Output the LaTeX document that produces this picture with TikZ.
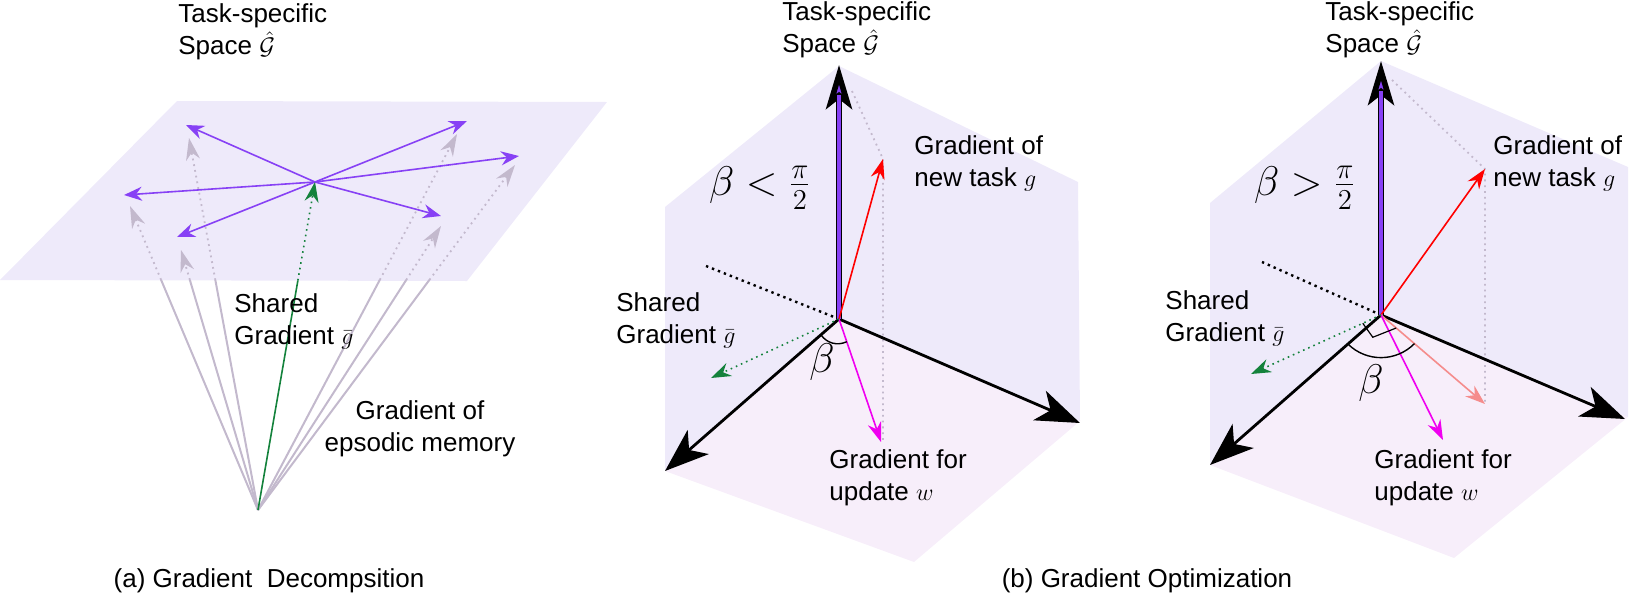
\documentclass[tikz,border=0pt]{standalone}
\usepackage{fontspec}
\setmainfont{Liberation Sans}
\usetikzlibrary{arrows.meta,calc}
\definecolor{pur}{RGB}{135,65,245}
\definecolor{lav}{RGB}{238,234,250}
\definecolor{pnk}{RGB}{247,238,250}
\definecolor{grn}{RGB}{20,130,60}
\definecolor{mag}{RGB}{240,0,240}
\definecolor{sal}{RGB}{245,140,140}
\definecolor{gry}{RGB}{195,185,205}
\tikzset{
 lbl/.style={font=\fontsize{13}{16}\selectfont, align=left, inner sep=0pt},
 captxt/.style={font=\fontsize{13}{15}\selectfont, inner sep=0pt},
 parr/.style={pur, line width=0.8pt, -{Stealth[length=9pt,width=7pt]}},
 gdot/.style={gry, line width=0.9pt, dotted},
 axis/.style={black, line width=1.4pt, -{Stealth[length=22pt,width=16pt,inset=6pt]}},
 upaxis/.style={line width=2.8pt, draw=black, -{Stealth[length=22pt,width=13pt,inset=5pt,fill=pur]}},
 vec/.style={line width=0.8pt, -{Stealth[length=10pt,width=7pt]}},
 big/.style={font=\fontsize{22}{24}\selectfont, inner sep=0pt},
}
\begin{document}
\begin{tikzpicture}[x=0.5pt,y=-0.5pt]
\useasboundingbox (0,0) rectangle (1629,595);
% ---------------- panel (a)
\fill[lav] (0,280) -- (177,101) -- (607,102) -- (467,281) -- cycle;
\coordinate (B) at (258,510);
\coordinate (C) at (315,182);
\foreach \n/\x/\y/\p in {1/189/138/0.618,2/457/134/0.612,3/515/165/0.667,4/130/206/0.757,5/181/250/0.885,6/441/226/0.81}{
  \coordinate (G\n) at (\x,\y);
  \path (B) -- (G\n) coordinate[pos=\p] (M\n);
  \draw[gry, line width=1pt] (B) -- (M\n);
  \draw[gdot, -{Stealth[length=11pt,width=7pt]}] (M\n) -- (G\n);
}
\foreach \n/\x/\y in {1/186/125,2/467/121,3/519/156,4/124/195,5/177/237,6/441/216}{
  \coordinate (P\n) at (\x,\y);
  \draw[parr] (C) -- (P\n);
}
\path (B) -- (C) coordinate[pos=0.70] (MG);
\draw[grn, line width=0.8pt] (B) -- (MG);
\draw[grn, line width=0.8pt, dotted, -{Stealth[length=10pt,width=7pt]}] (MG) -- (C);
\node[lbl, anchor=west] (ta) at (178,32) {Task-specific\\Space $\hat{\mathcal{G}}$};
\node[lbl, anchor=west] (sa) at (234,321) {Shared\\Gradient $\bar{g}$};
\node[lbl, align=center] (ea) at (420,429) {Gradient of\\epsodic memory};
\node[captxt] (capa) at (269,581) {(a) Gradient \ Decompsition};
% ---------------- panel (b)
\fill[pnk] (839,319) -- (665,471) -- (914,562) -- (1080,421) -- cycle;
\fill[lav] (839,319) -- (665,471) -- (665,207) -- (839,66) -- (1078,182) -- (1080,421) -- cycle;
\coordinate (Ob) at (839,319);
\coordinate (Tb) at (839,65);
\coordinate (Lb) at (665,471);
\coordinate (Rb) at (1080,423);
\draw[black, line width=1.2pt, dotted] (Ob) -- (706,266);
\draw[gdot] (852,91) -- (883,159) -- (883,442);
\draw[axis] (Ob) -- (Lb);
\draw[axis] (Ob) -- (Rb);
\draw[upaxis] (Ob) -- (Tb);
\draw[pur, line width=1.6pt] (Ob) -- ($(Tb)+(0,30)$);
\draw[vec, red] (Ob) -- (883,159) coordinate (Rdb);
\draw[vec, mag] (Ob) -- (881,442) coordinate (Mb);
\draw[vec, grn, dotted] (Ob) -- (711,378) coordinate (Gb);
\draw[black, line width=0.7pt] ($(Ob)!12pt!(Lb)$) to[bend right=40] ($(Ob)!12pt!(Mb)$);
\node[lbl, anchor=west] (tb) at (782,30) {Task-specific\\Space $\hat{\mathcal{G}}$};
\node[big] (bb) at (760,188) {$\beta < \frac{\pi}{2}$};
\node[lbl, anchor=west] (nb) at (914,163) {Gradient of\\new task $g$};
\node[lbl, anchor=west] (sb) at (616,320) {Shared\\Gradient $\bar{g}$};
\node[big] (betab) at (822,362) {$\beta$};
\node[lbl, anchor=west] (ub) at (829,478) {Gradient for\\update $w$};
% ---------------- panel (c)
\fill[pnk] (1381,315) -- (1210,465) -- (1454,558) -- (1628,417) -- cycle;
\fill[lav] (1381,315) -- (1210,465) -- (1210,203) -- (1381,61) -- (1628,167) -- (1628,417) -- cycle;
\coordinate (Oc) at (1381,315);
\coordinate (Tc) at (1381,61);
\coordinate (Lc) at (1210,465);
\coordinate (Rc) at (1625,419);
\draw[black, line width=1.2pt, dotted] (Oc) -- (1262,262);
\draw[gdot] (1392,80) -- (1485,169) -- (1485,404);
\draw[axis] (Oc) -- (Lc);
\draw[axis] (Oc) -- (Rc);
\draw[upaxis] (Oc) -- (Tc);
\draw[pur, line width=1.6pt] (Oc) -- ($(Tc)+(0,30)$);
\draw[vec, red] (Oc) -- (1485,169) coordinate (Rdc);
\draw[vec, sal] (Oc) -- (1485,404) coordinate (Sc);
\draw[vec, mag] (Oc) -- (1443,440) coordinate (Mc);
\draw[vec, grn, dotted] (Oc) -- (1251,374) coordinate (Gc);
\draw[black, line width=0.7pt] ($(Oc)!22pt!(Lc)$) to[bend right=45] ($(Oc)!22pt!(Sc)$);
\draw[black, line width=0.6pt] ($(Oc)!10pt!(Gc)$) -- ++(10,14) coordinate (rq) -- ($(Oc)!10pt!(Sc)$);
\node[lbl, anchor=west] (tc) at (1325,30) {Task-specific\\Space $\hat{\mathcal{G}}$};
\node[big] (bc) at (1305,188) {$\beta > \frac{\pi}{2}$};
\node[lbl, anchor=west] (nc) at (1493,163) {Gradient of\\new task $g$};
\node[lbl, anchor=west] (sc) at (1165,318) {Shared\\Gradient $\bar{g}$};
\node[big] (betac) at (1371,383) {$\beta$};
\node[lbl, anchor=west] (uc) at (1374,478) {Gradient for\\update $w$};
\node[captxt] (capb) at (1147,581) {(b) Gradient Optimization};
\end{tikzpicture}
\end{document}
